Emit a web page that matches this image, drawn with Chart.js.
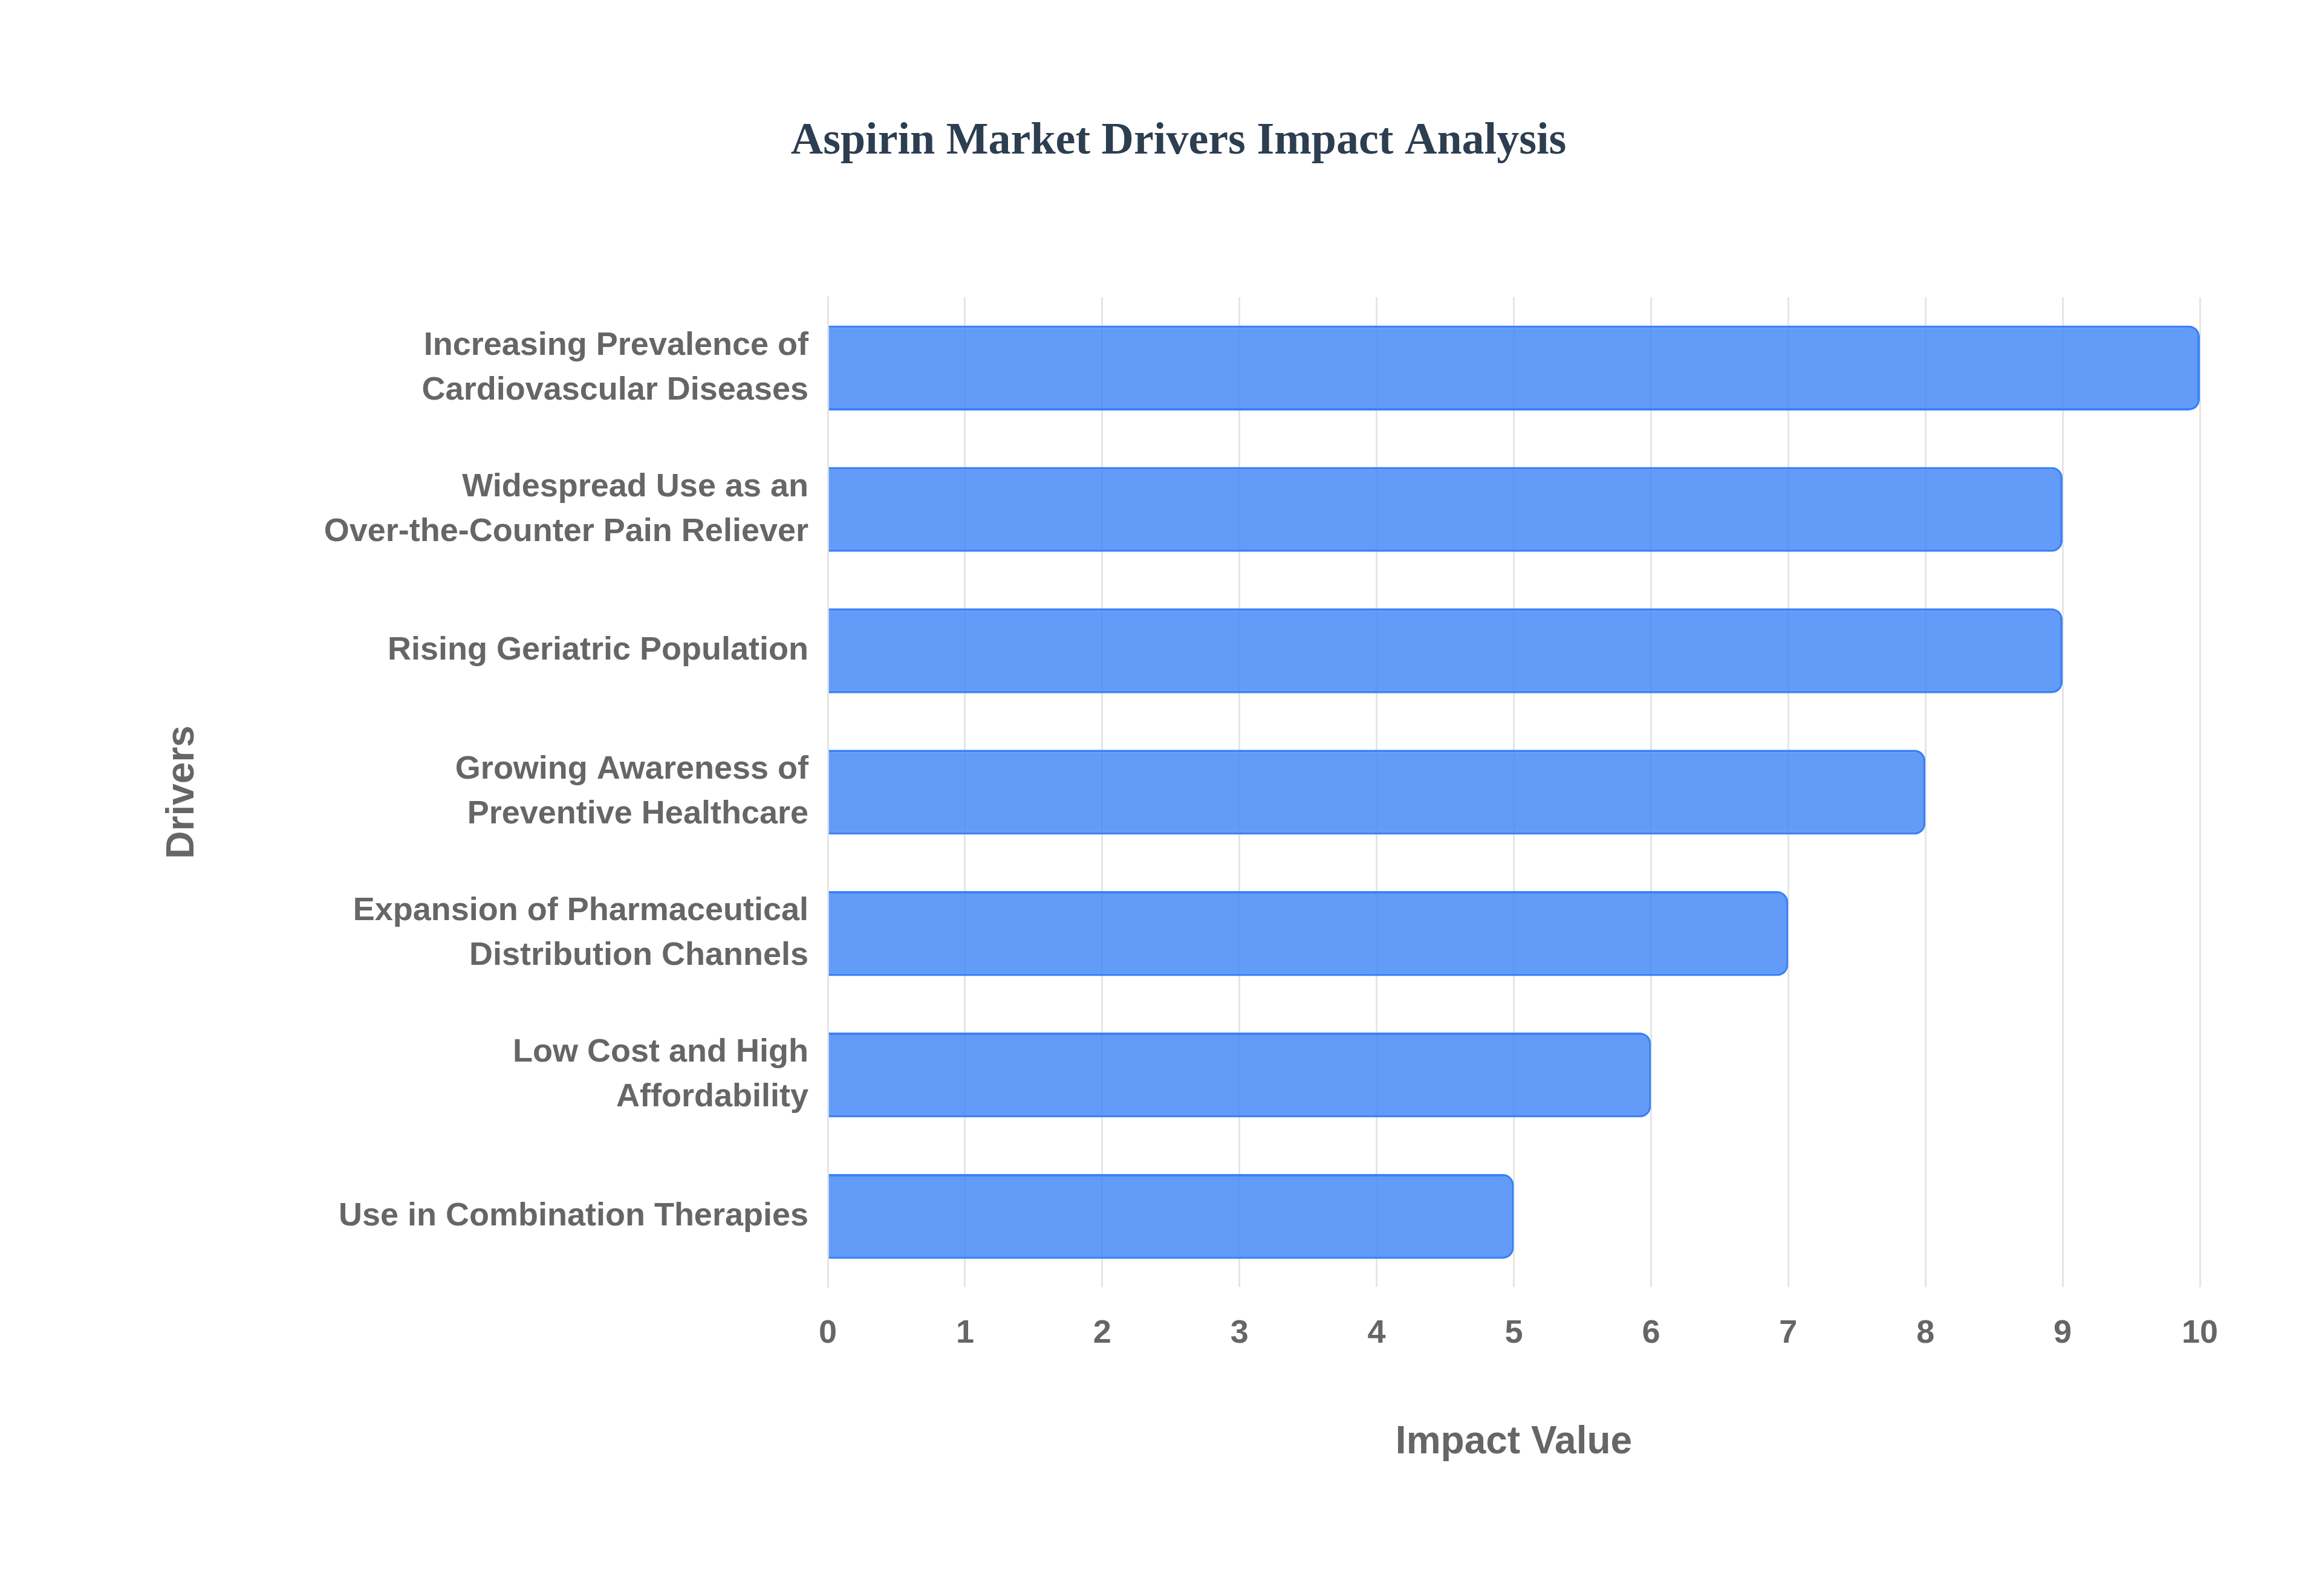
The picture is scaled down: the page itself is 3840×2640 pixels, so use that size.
<!DOCTYPE html>
<html>
<head>
<meta charset="utf-8">
<script src="https://cdn.jsdelivr.net/npm/chart.js@4/dist/chart.umd.min.js"></script>
<style>
  html, body { margin: 0; padding: 0; background: #fff; }
  #wrap { width: 3840px; height: 2640px; }
</style>
</head>
<body>
<div id="wrap"><canvas id="chart"></canvas></div>
<script>
const drivers = [
    ['Increasing Prevalence of', 'Cardiovascular Diseases'],
    ['Widespread Use as an', 'Over-the-Counter Pain Reliever'],
    'Rising Geriatric Population',
    ['Growing Awareness of', 'Preventive Healthcare'],
    ['Expansion of Pharmaceutical', 'Distribution Channels'],
    ['Low Cost and High', 'Affordability'],
    'Use in Combination Therapies'
];
const impactValues = [10, 9, 9, 8, 7, 6, 5];

const tickFont = { family: 'Liberation Sans, Arial, sans-serif', size: 54, weight: 'bold', lineHeight: 1.37 };
const titleFont = { family: 'Liberation Sans, Arial, sans-serif', size: 64, weight: 'bold' };

var ctx = document.getElementById('chart').getContext('2d');
var myChart = new Chart(ctx, {
    type: 'bar',
    data: {
        labels: drivers,
        datasets: [{
            label: 'Impact Value',
            data: impactValues,
            backgroundColor: 'rgba(59, 130, 246, 0.8)',
            borderColor: 'rgb(59, 130, 246)',
            borderWidth: 4,
            borderRadius: 18,
            borderSkipped: 'start',
            barPercentage: 0.6,
            categoryPercentage: 1
        }]
    },
    options: {
        indexAxis: 'y',
        responsive: true,
        maintainAspectRatio: false,
        devicePixelRatio: 1,
        animation: false,
        layout: { padding: { top: 190, left: 260, right: 202, bottom: 211 } },
        plugins: {
            legend: { display: false },
            tooltip: { enabled: false },
            title: {
                display: true,
                text: 'Aspirin Market Drivers Impact Analysis',
                color: '#2c3e50',
                font: { family: 'Liberation Serif, Times New Roman, serif', size: 74, weight: 'bold' },
                padding: { top: 0, bottom: 213 }
            }
        },
        scales: {
            x: {
                min: 0,
                max: 10,
                ticks: { stepSize: 1, color: '#666', font: tickFont, padding: 40 },
                grid: { color: '#e5e5e5', lineWidth: 3, tickLength: 0 },
                border: { display: false },
                title: { display: true, text: 'Impact Value', color: '#666', font: titleFont, padding: { top: 60 } },
                afterFit: (axis) => { axis.height = 300; }
            },
            y: {
                ticks: { color: '#666', font: tickFont, padding: 24 },
                grid: { display: false },
                border: { color: '#e5e5e5', width: 3 },
                title: { display: true, text: 'Drivers', color: '#666', font: titleFont },
                afterFit: (axis) => { axis.width = 1109; }
            }
        }
    }
});
</script>
</body>
</html>
